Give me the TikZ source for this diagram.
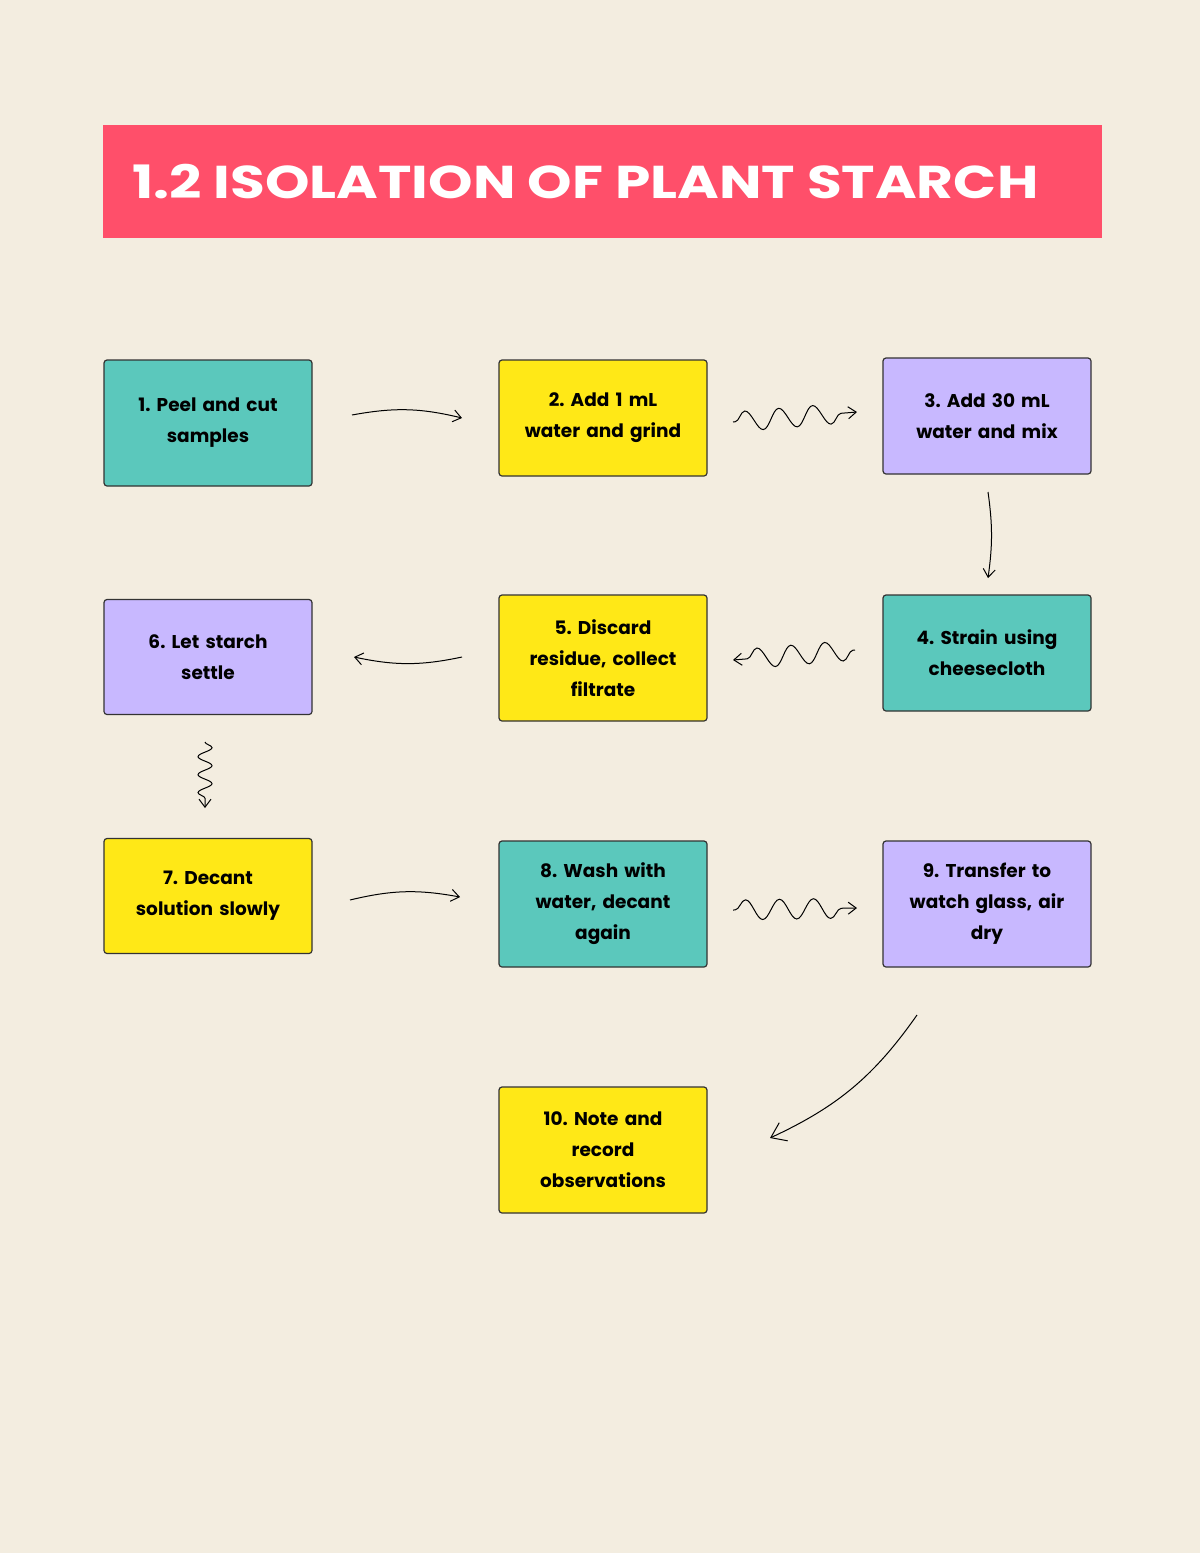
\documentclass[tikz,border=0pt]{standalone}
\usepackage{fontspec}
\setmainfont{Poppins}
\frenchspacing
\usetikzlibrary{decorations.pathmorphing,arrows.meta}
\definecolor{bg}{HTML}{F3EDE0}
\definecolor{tl}{HTML}{5BC8BC}
\definecolor{yl}{HTML}{FFE817}
\definecolor{lv}{HTML}{C8B8FF}
\definecolor{rd}{HTML}{FF4F6A}
\begin{document}
\begin{tikzpicture}[x=1pt,y=-1pt,
 box/.style={draw=black!80,line width=1.2pt,rounded corners=3pt,minimum width=208pt,align=center,font=\fontsize{18.5}{31}\selectfont\bfseries\frenchspacing,text width=200pt},
 arr/.style={-{Straight Barb[length=8pt,width=12pt]},line width=1pt},
 sq/.style={arr,decorate,decoration={snake,amplitude=10pt,segment length=34pt,post length=10pt,pre length=2pt}},
 sqs/.style={arr,decorate,decoration={snake,amplitude=7pt,segment length=18pt,post length=6pt}}]
\fill[bg] (0,0) rectangle (1200,1553);
\node[fill=rd,minimum width=999pt,minimum height=113pt,anchor=north west] (title) at (103,125) {};
\node[anchor=west,text=white,font=\fontsize{46}{50}\selectfont\bfseries,xscale=1.23,transform shape] (tt) at (128,182) {1.2 ISOLATION OF PLANT STARCH};
\node[box,fill=tl,minimum height=126pt] (n1) at (208,423) {1. Peel and cut\\samples};
\node[box,fill=yl,minimum height=116pt] (n2) at (603,418) {2. Add 1 mL\\water and grind};
\node[box,fill=lv,minimum height=116pt] (n3) at (987,416) {3. Add 30 mL\\water and mix};
\node[box,fill=tl,minimum height=116pt] (n4) at (987,653) {4. Strain using\\cheesecloth};
\node[box,fill=yl,minimum height=126pt] (n5) at (603,658) {5. Discard\\residue, collect\\filtrate};
\node[box,fill=lv,minimum height=115pt] (n6) at (208,657) {6. Let starch\\settle};
\node[box,fill=yl,minimum height=115pt] (n7) at (208,896) {7. Decant\\solution slowly};
\node[box,fill=tl,minimum height=126pt] (n8) at (603,904) {8. Wash with\\water, decant\\again};
\node[box,fill=lv,minimum height=126pt] (n9) at (987,904) {9. Transfer to\\watch glass, air\\dry};
\node[box,fill=yl,minimum height=126pt] (n10) at (603,1150) {10. Note and\\record\\observations};
\coordinate (a1) at (352,415); \coordinate (b1) at (462,418);
\coordinate (a2) at (733,422); \coordinate (b2) at (857,412);
\coordinate (a3) at (988,492); \coordinate (b3) at (988,578);
\coordinate (a4) at (855,650); \coordinate (b4) at (733,660);
\coordinate (a5) at (462,657); \coordinate (b5) at (354,657);
\coordinate (a6) at (205,742); \coordinate (b6) at (205,808);
\coordinate (a7) at (350,900); \coordinate (b7) at (460,897);
\coordinate (a8) at (733,910); \coordinate (b8) at (857,908);
\coordinate (a9) at (917,1015); \coordinate (b9) at (770,1138);
\draw[arr] (a1) to[bend left=12] (b1);
\draw[sq] (a2) -- (b2);
\draw[arr] (a3) to[bend left=8] (b3);
\draw[sq] (a4) -- (b4);
\draw[arr] (a5) to[bend left=12] (b5);
\draw[sqs] (a6) -- (b6);
\draw[arr] (a7) to[bend left=12] (b7);
\draw[sq] (a8) -- (b8);
\draw[arr,-{Straight Barb[length=14pt,width=20pt]}] (a9) to[bend left=15] (b9);
\end{tikzpicture}
\end{document}
